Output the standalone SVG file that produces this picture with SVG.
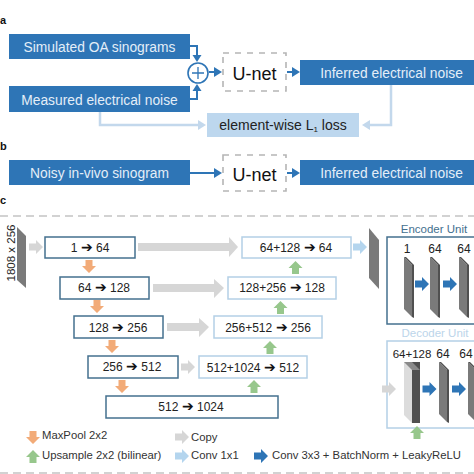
<svg xmlns="http://www.w3.org/2000/svg" width="474" height="474" viewBox="0 0 474 474">
<style>
text{font-family:"Liberation Sans",Arial,sans-serif;text-anchor:middle}
.blue{fill:#2e75b6}
.bt{fill:#e4eef8;font-size:13.8px}
.un{fill:#111;font-size:18px}
.dash{fill:#fff;stroke:#b5b5b5;stroke-width:1.6;stroke-dasharray:6 6}
.sep{stroke:#c4c4c4;stroke-width:1.5;stroke-dasharray:8 5;fill:none}
.enc{fill:#fff;stroke:#44708f;stroke-width:1.5}
.dec{fill:#fff;stroke:#b4d0e6;stroke-width:1.5}
.n{fill:#222;font-size:12px}
.a{font-size:14px;fill:#111}
.leg{fill:#333;font-size:11.3px;text-anchor:start}
.tag{font-size:11px;font-weight:bold;fill:#111;text-anchor:start}
.l{fill:none;stroke:#2e75b6;stroke-width:2}
.ll{fill:none;stroke:#c3d8ec;stroke-width:2.5}
.hd{fill:#2e75b6}
.hl{fill:#c3d8ec}
.or{fill:#f2ab78}.gn{fill:#97c78c}.gy{fill:#d6d6d6}.lb{fill:#b4d5ee}.db{fill:#2e75b6}
.s1{fill:#7a7a7a}.s2{fill:#505050}
</style>
<defs>
<path id="ad" d="M-3.500 -9H3.500V-3H7L0 4L-7 -3H-3.500Z"/>
<path id="au" d="M-3.500 9H3.500V3H7L0 -4L-7 3H-3.500Z"/>
<path id="ar" d="M-7 -3.500H0V-7L7 0L0 7V3.500H-7Z"/>
<g id="slab"><path class="s1" d="M0 0L8 8V60L0 52Z"/><path class="s2" d="M0 0H2L10 8V61L8 60V8Z"/></g>
</defs>

<text class="tag" x="0" y="24">a</text>
<text class="tag" x="0" y="150">b</text>
<text class="tag" x="0" y="204">c</text>

<g id="connectors">
<path class="l" d="M190 46H197V56"/><path class="hd" d="M192.500 55H201.500L197 62Z"/>
<path class="l" d="M190 99H197V90"/><path class="hd" d="M192.500 91H201.500L197 84Z"/>
<path class="l" d="M209 72H216"/><path class="hd" d="M214 67L222 72L214 77Z"/>
<path class="l" d="M287 72H294"/><path class="hd" d="M292 67L300 72L292 77Z"/>
<path class="ll" d="M100 112V125H200"/><path class="hl" d="M198 120L206 125L198 130Z"/>
<path class="ll" d="M391 85V125H368"/><path class="hl" d="M370 120L362 125L370 130Z"/>
<path class="l" d="M190 173H216"/><path class="hd" d="M214 168L222 173L214 178Z"/>
<path class="l" d="M287 173H294"/><path class="hd" d="M292 168L300 173L292 178Z"/>
<use href="#ar" class="gy" x="36" y="247"/>
<path class="gy" d="M138 243H229V237L238 247L229 257V251H138Z"/>
<path class="gy" d="M153 284H214V279L224 288L214 298V292H153Z"/>
<path class="gy" d="M167 323H199V318L209 327L199 337V331H167Z"/>
<use href="#ar" class="gy" x="188" y="367"/>
<use href="#ad" class="or" x="89" y="269"/>
<use href="#ad" class="or" x="97" y="309"/>
<use href="#ad" class="or" x="112" y="349"/>
<use href="#ad" class="or" x="122" y="389"/>
<use href="#au" class="gn" x="295.500" y="265"/>
<use href="#au" class="gn" x="280.500" y="305"/>
<use href="#au" class="gn" x="270" y="345"/>
<use href="#au" class="gn" x="254" y="384"/>
<use href="#ar" class="lb" x="360" y="247"/>
</g>

<g id="sim"><rect class="blue" x="9" y="34" width="181" height="25"/><text class="bt" x="99.500" y="52">Simulated OA sinograms</text></g>
<g id="measured"><rect class="blue" x="9" y="86" width="181" height="26"/><text class="bt" x="99.500" y="105">Measured electrical noise</text></g>
<g id="plus"><circle cx="198" cy="73" r="10" fill="#fff" stroke="#2e75b6" stroke-width="1.6"/><path class="l" d="M192 73H204M198 67V79" style="stroke-width:1.3"/></g>
<g id="unet1"><rect class="dash" x="223" y="53" width="63" height="38"/><text class="un" x="254.500" y="80">U-net</text></g>
<g id="inf1"><rect class="blue" x="300" y="60" width="174" height="25"/><text class="bt" x="391.500" y="78">Inferred electrical noise</text></g>
<g id="loss"><rect fill="#bdd7ee" x="207" y="113" width="152" height="24"/><text x="283" y="130" style="font-size:14px;fill:#222">element-wise L<tspan dy="2" style="font-size:8px">1</tspan><tspan dy="-2"> loss</tspan></text></g>
<g id="noisy"><rect class="blue" x="9" y="160" width="181" height="25"/><text class="bt" x="99.500" y="178">Noisy in-vivo sinogram</text></g>
<g id="unet2"><rect class="dash" x="223" y="155" width="63" height="36"/><text class="un" x="254.500" y="181">U-net</text></g>
<g id="inf2"><rect class="blue" x="300" y="160" width="174" height="25"/><text class="bt" x="391.500" y="178">Inferred electrical noise</text></g>

<path class="sep" d="M0 216H474M0 473H474"/>

<g id="input"><path class="s1" d="M17 227L26 236V288L17 280Z"/><text transform="translate(15 253) rotate(-90)" style="font-size:11.500px;fill:#222">1808 x 256</text></g>
<g id="e1"><rect class="enc" x="45" y="237" width="90" height="21"/><text class="n" x="90" y="252">1 <tspan class="a">➔</tspan> 64</text></g>
<g id="e2"><rect class="enc" x="60" y="277" width="89" height="22"/><text class="n" x="104" y="292">64 <tspan class="a">➔</tspan> 128</text></g>
<g id="e3"><rect class="enc" x="74" y="316" width="89" height="22"/><text class="n" x="118" y="332">128 <tspan class="a">➔</tspan> 256</text></g>
<g id="e4"><rect class="enc" x="88" y="356" width="90" height="22"/><text class="n" x="132" y="371">256 <tspan class="a">➔</tspan> 512</text></g>
<g id="e5"><rect class="enc" x="106" y="396" width="172" height="22"/><text class="n" x="191" y="411">512 <tspan class="a">➔</tspan> 1024</text></g>
<g id="d1"><rect class="dec" x="242" y="237" width="109" height="21"/><text class="n" x="296" y="252">64+128 <tspan class="a">➔</tspan> 64</text></g>
<g id="d2"><rect class="dec" x="228" y="277" width="108" height="22"/><text class="n" x="282" y="292">128+256 <tspan class="a">➔</tspan> 128</text></g>
<g id="d3"><rect class="dec" x="214" y="316" width="108" height="22"/><text class="n" x="268" y="332">256+512 <tspan class="a">➔</tspan> 256</text></g>
<g id="d4"><rect class="dec" x="199" y="356" width="108" height="22"/><text class="n" x="253" y="372">512+1024 <tspan class="a">➔</tspan> 512</text></g>
<g id="output"><path class="s1" d="M369 228L379 240V289L369 278Z"/></g>

<g id="encoder">
<text x="434" y="233" style="font-size:11.500px;fill:#44708f">Encoder Unit</text>
<rect class="enc" x="387" y="237" width="90" height="87"/>
<text class="n" x="407" y="253">1</text><text class="n" x="435" y="253">64</text><text class="n" x="464" y="253">64</text>
<use href="#slab" x="404" y="257"/><use href="#slab" x="430" y="257"/><use href="#slab" x="459" y="257"/>
<use href="#ar" class="db" x="422" y="284"/><use href="#ar" class="db" x="450" y="284"/>
</g>
<g id="decoder">
<text x="435" y="337" style="font-size:11.500px;fill:#bcd5ea">Decoder Unit</text>
<rect class="dec" x="387" y="341" width="90" height="87"/>
<text class="n" x="412" y="358" style="font-size:11.500px">64+128</text><text class="n" x="443" y="358">64</text><text class="n" x="466" y="358">64</text>
<path fill="#dcdcdc" d="M404 362H412V423L404 415Z"/>
<path class="s2" d="M412 362L420 362V423H412Z"/><path fill="#8a8a8a" d="M404 362H412L420 370H412Z"/>
<use href="#slab" x="439" y="362"/><use href="#slab" x="468" y="362"/>
<use href="#ar" class="db" x="429.500" y="389"/><use href="#ar" class="db" x="459" y="389"/>
<use href="#ar" class="gy" x="389" y="389"/>
<use href="#au" class="gn" x="417" y="430"/>
</g>

<g id="legend">
<use href="#ad" class="or" x="33" y="440"/><text class="leg" x="42" y="439">MaxPool 2x2</text>
<use href="#au" class="gn" x="33" y="454"/><text class="leg" x="42" y="459">Upsample 2x2 (bilinear)</text>
<use href="#ar" class="gy" x="182" y="437"/><text class="leg" x="191" y="441">Copy</text>
<use href="#ar" class="lb" x="182" y="456"/><text class="leg" x="191" y="459">Conv 1x1</text>
<use href="#ar" class="db" x="261" y="456"/><text class="leg" x="272" y="459">Conv 3x3 + BatchNorm + LeakyReLU</text>
</g>
</svg>
